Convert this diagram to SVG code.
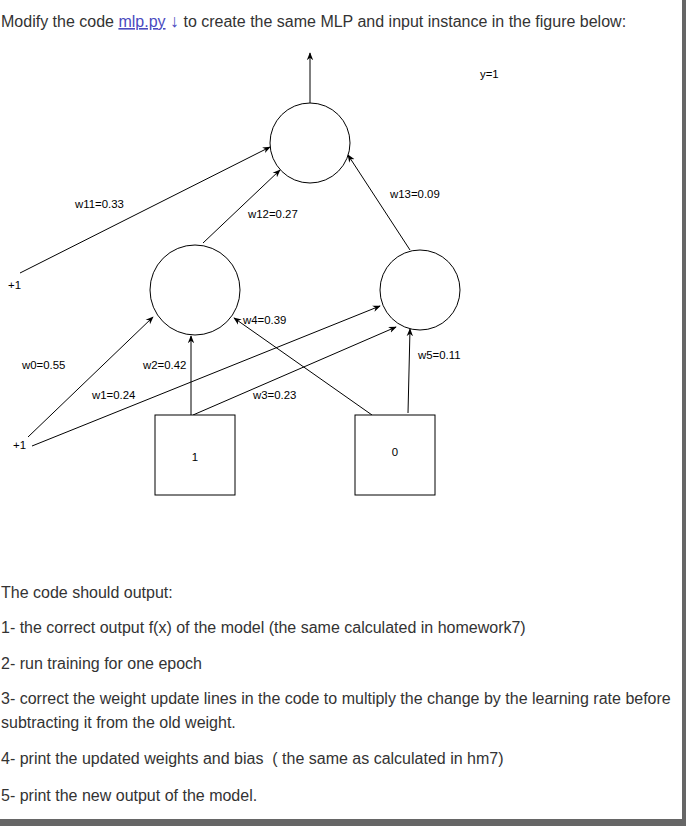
<svg xmlns="http://www.w3.org/2000/svg" width="686" height="826" viewBox="0 0 686 826">
<style>
.t{font-family:"Liberation Sans",Arial,sans-serif;font-size:16px;fill:#333}
.l{font-family:"Liberation Sans",Arial,sans-serif;font-size:11.4px;fill:#000}
.n{fill:#fff;stroke:#000;stroke-width:1}
.e{stroke:#000;stroke-width:1;fill:none;marker-end:url(#a)}
</style>
<defs><marker id="a" viewBox="0 0 10 10" refX="9" refY="5" markerWidth="8" markerHeight="8" orient="auto"><path d="M0,1 L10,5 L0,9 L3,5 Z" fill="#000"/></marker></defs>
<rect width="686" height="826" fill="#fff"/>
<rect x="682" y="0" width="4" height="826" fill="#666"/>
<rect x="0" y="819" width="686" height="7" fill="#666"/>
<text class="t" x="1" y="27">Modify the code <tspan fill="#4a4ac0" text-decoration="underline">mlp.py</tspan> <tspan fill="#4a4ac0" font-size="18">↓</tspan> to create the same MLP and input instance in the figure below:</text>
<g id="connectors">
<path class="e" d="M310,103 L310,53"/>
<path class="e" d="M20,273 L270,147"/>
<path class="e" d="M203,243 L280,170"/>
<path class="e" d="M410,250 L348,155"/>
<path class="e" d="M28,437 L153,317"/>
<path class="e" d="M32,446 L380,306"/>
<path class="e" d="M191,415 L191,336"/>
<path class="e" d="M193,415 L396,327"/>
<path class="e" d="M372,415 L234,318"/>
<path class="e" d="M408,413 L410,329"/>
</g>
<g id="out"><circle class="n" cx="310" cy="143" r="40"/></g>
<g id="h1"><circle class="n" cx="195" cy="290" r="45"/></g>
<g id="h2"><circle class="n" cx="420" cy="290" r="40"/></g>
<g id="x1"><rect class="n" x="155" y="415" width="80" height="80"/><text class="l" x="195" y="461" font-size="14" text-anchor="middle">1</text></g>
<g id="x2"><rect class="n" x="355" y="415" width="80" height="80"/><text class="l" x="395" y="456" font-size="14" text-anchor="middle">0</text></g>
<g id="labels">
<text class="l" x="480" y="78">y=1</text>
<text class="l" x="75" y="208">w11=0.33</text>
<text class="l" x="248" y="218">w12=0.27</text>
<text class="l" x="390" y="198">w13=0.09</text>
<text class="l" x="8" y="289">+1</text>
<text class="l" x="243" y="324">w4=0.39</text>
<text class="l" x="22" y="369">w0=0.55</text>
<text class="l" x="143" y="369">w2=0.42</text>
<text class="l" x="92" y="399">w1=0.24</text>
<text class="l" x="253" y="399">w3=0.23</text>
<text class="l" x="418" y="359">w5=0.11</text>
<text class="l" x="13" y="449">+1</text>
</g>
<text class="t" x="1" y="598">The code should output:</text>
<text class="t" x="1" y="633">1- the correct output f(x) of the model (the same calculated in homework7)</text>
<text class="t" x="1" y="669">2- run training for one epoch</text>
<text class="t" x="1" y="704">3- correct the weight update lines in the code to multiply the change by the learning rate before</text>
<text class="t" x="1" y="728">subtracting it from the old weight.</text>
<text class="t" x="1" y="764" xml:space="preserve">4- print the updated weights and bias  ( the same as calculated in hm7)</text>
<text class="t" x="1" y="801">5- print the new output of the model.</text>
</svg>
